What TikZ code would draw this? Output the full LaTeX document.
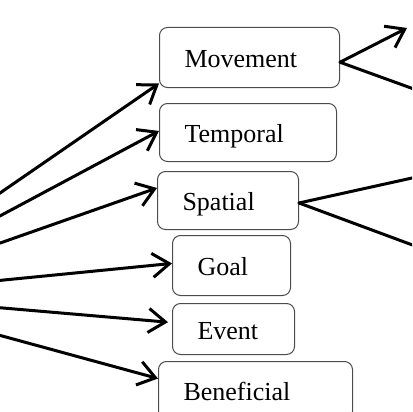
\documentclass[tikz,border=0pt]{standalone}
\usepackage{fontspec}
\setmainfont{Liberation Serif}
\usetikzlibrary{arrows.meta}

\begin{document}
\begin{tikzpicture}[x=1pt, y=-1pt, line cap=round, line join=round,
  cbox/.style={draw=black!70, line width=1pt, rounded corners=8pt, anchor=north west,
    inner xsep=25pt, inner ysep=0pt, align=left, text height=20pt, text depth=0pt,
    font=\fontsize{26}{30}\selectfont},
  arr/.style={line width=3pt, -{Straight Barb[length=17pt,width=24pt]}}]
  \useasboundingbox (0,0) rectangle (412,412);
  \clip (0,0) rectangle (412,412);
  % the role boxes
  \node[cbox, text width=130pt, minimum height=60pt] (mov) at (159,27) {Movement};
  \node[cbox, text width=127pt, minimum height=58pt] (tmp) at (159,103) {Temporal};
  \node[cbox, text width=91pt, minimum height=58pt] (spa) at (157,171) {Spatial};
  \node[cbox, text width=68pt, minimum height=60pt] (goal) at (172,235) {Goal};
  \node[cbox, text width=72pt, minimum height=51pt] (evt) at (172,303) {Event};
  \node[cbox, text width=144pt, minimum height=58pt] (ben) at (158,361) {Beneficial};
  % fan in from the left
  \coordinate (src) at (-148,295);
  \foreach \b/\a/\s in {mov/196/0, tmp/179/0, spa/170/0, goal/178/0, evt/174/4, ben/173/0}
    \draw[arr, shorten >=\s pt] (src) -- (\b.\a);
  % fan out to the right
  \coordinate (mr1) at (407,28);
  \coordinate (mr2) at (480,113);
  \coordinate (sr1) at (480,163);
  \coordinate (sr2) at (480,270);
  \draw[arr] (mov.357) -- (mr1);
  \draw[arr] (mov.357) -- (mr2);
  \draw[arr] (spa.358) -- (sr1);
  \draw[arr] (spa.358) -- (sr2);
\end{tikzpicture}
\end{document}
